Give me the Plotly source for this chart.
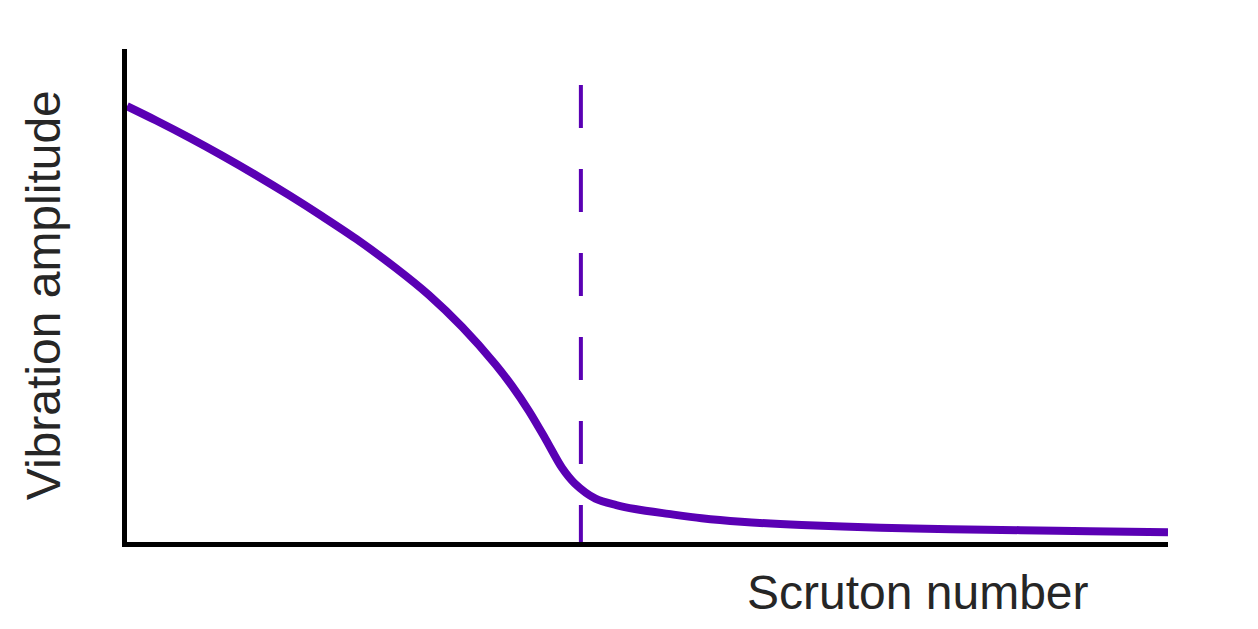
import plotly.graph_objects as go

# curve (arbitrary units, axes run 0..10)
scruton = [0, 0.28, 0.60, 0.92, 1.24, 1.56, 1.88, 2.20, 2.58, 2.90, 3.22, 3.54,
           3.70, 3.86, 4.02, 4.18, 4.30, 4.50, 4.70, 4.88, 5.20, 5.52, 5.90, 6.48,
           7.24, 7.91, 8.58, 9.25, 10]
amplitude = [8.84, 8.55, 8.20, 7.83, 7.44, 7.03, 6.60, 6.15, 5.56, 5.01, 4.36, 3.60,
             3.16, 2.66, 2.09, 1.50, 1.19, 0.88, 0.75, 0.67, 0.57, 0.48, 0.41, 0.345,
             0.29, 0.26, 0.24, 0.22, 0.20]

# critical scruton number marker
crit_x = [4.36, 4.36]
crit_y = [9.27, 0]

purple = "#5a00b4"
txt = "#262626"

fig = go.Figure()
fig.add_trace(go.Scatter(x=crit_x, y=crit_y, mode="lines",
                         line=dict(color=purple, width=4, dash="43px,41px"),
                         hoverinfo="skip"))
fig.add_trace(go.Scatter(x=scruton, y=amplitude, mode="lines",
                         line=dict(color=purple, width=8, shape="spline", smoothing=0.9)))

# page body adds 8px, so figure is a bit smaller than the window
fig.update_layout(
    width=1250, height=621,
    margin=dict(l=119, r=90, t=41, b=87),
    plot_bgcolor="white", paper_bgcolor="white",
    showlegend=False,
    font=dict(family="Liberation Sans, Arial, sans-serif", size=48, color=txt),
)
fig.update_xaxes(range=[0, 10], showgrid=False, zeroline=False, showticklabels=False,
                 ticks="", showline=True, linecolor="black", linewidth=5)
fig.update_yaxes(range=[0, 10], showgrid=False, zeroline=False, showticklabels=False,
                 ticks="", showline=True, linecolor="black", linewidth=5)

fig.add_annotation(text="Scruton number", xref="paper", yref="paper",
                   x=0.76, y=-0.103, xanchor="center", yanchor="middle",
                   showarrow=False, font=dict(size=48, color=txt))
fig.add_annotation(text="Vibration amplitude", xref="paper", yref="paper",
                   x=-0.08, y=0.5, xanchor="center", yanchor="middle", textangle=-90,
                   showarrow=False, font=dict(size=48, color=txt))

fig.write_html("out.html")
